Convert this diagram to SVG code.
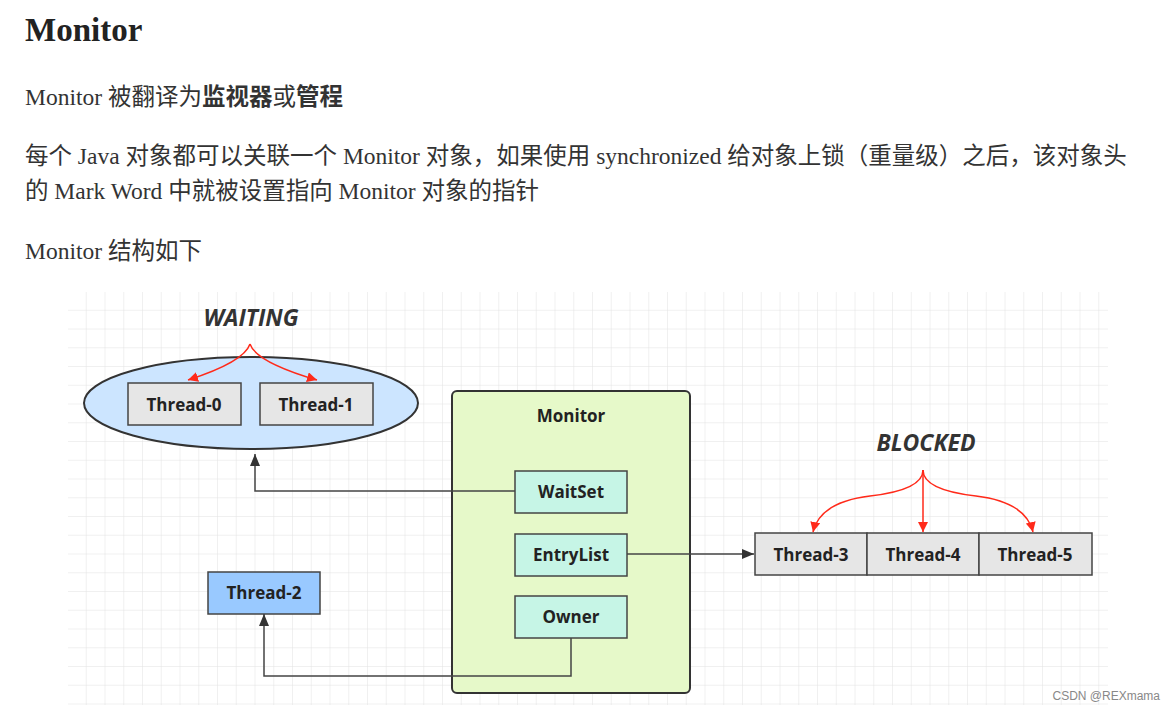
<svg xmlns="http://www.w3.org/2000/svg" width="1175" height="711" viewBox="0 0 1175 711">
<style>
.t{font-family:"Liberation Serif","Noto Sans CJK SC",serif;fill:#333;font-size:23.5px}
.d{font-family:"Open Sans","Liberation Sans",sans-serif;font-weight:bold;fill:#222;font-size:17px;text-anchor:middle}
.big{font-family:"Open Sans","Liberation Sans",sans-serif;font-weight:bold;font-style:italic;fill:#333;font-size:23px;text-anchor:middle}
.g{fill:#e6e6e6;stroke:#444;stroke-width:1.5}
.c{fill:#c6f5e6;stroke:#444;stroke-width:1.5}
.red{fill:none;stroke:#ff2a1a;stroke-width:1.5}
.blk{fill:none;stroke:#444;stroke-width:1.5}
</style>
<defs>
<pattern id="grid" width="18.75" height="18.75" patternUnits="userSpaceOnUse" x="68" y="292">
<path d="M18.75 0V18.75H0" fill="none" stroke="#e2e2e2" stroke-width="1"/>
</pattern>
<marker id="ar" markerWidth="12" markerHeight="12" refX="10" refY="5" orient="auto" markerUnits="userSpaceOnUse"><path d="M0,0L10,5L0,10z" fill="#ff2a1a"/></marker>
<marker id="ab" markerWidth="14" markerHeight="12" refX="12" refY="5" orient="auto" markerUnits="userSpaceOnUse"><path d="M0,0L12,5L0,10z" fill="#333"/></marker>
</defs>
<rect width="1175" height="711" fill="#fff"/>
<text x="25" y="41" style="font-family:'Liberation Serif',serif;font-weight:bold;font-size:33px;fill:#222">Monitor</text>
<text class="t" x="25" y="105">Monitor 被翻译为<tspan font-weight="bold" style="font-family:'Noto Sans CJK SC',sans-serif">监视器</tspan>或<tspan font-weight="bold" style="font-family:'Noto Sans CJK SC',sans-serif">管程</tspan></text>
<text class="t" x="25" y="164">每个 Java 对象都可以关联一个 Monitor 对象，如果使用 synchronized 给对象上锁（重量级）之后，该对象头</text>
<text class="t" x="25" y="199">的 Mark Word 中就被设置指向 Monitor 对象的指针</text>
<text class="t" x="25" y="259">Monitor 结构如下</text>
<rect x="68" y="292" width="1040" height="413" fill="url(#grid)"/>
<g id="waiting"><ellipse cx="251" cy="403" rx="167" ry="46" fill="#cce5ff" stroke="#333" stroke-width="2"/>
<text class="big" x="251" y="326">WAITING</text></g>
<g id="thread0"><rect class="g" x="128" y="383" width="113" height="42"/><text class="d" x="184" y="411">Thread-0</text></g>
<g id="thread1"><rect class="g" x="260" y="383" width="113" height="42"/><text class="d" x="316" y="411">Thread-1</text></g>
<g id="monitor"><rect x="452" y="391" width="238" height="302" rx="5" fill="#e6f9c9" stroke="#333" stroke-width="2"/><text class="d" x="571" y="422">Monitor</text></g>
<g id="waitset"><rect class="c" x="515" y="471" width="112" height="42"/><text class="d" x="571" y="498">WaitSet</text></g>
<g id="entrylist"><rect class="c" x="515" y="534" width="112" height="42"/><text class="d" x="571" y="561">EntryList</text></g>
<g id="owner"><rect class="c" x="515" y="596" width="112" height="42"/><text class="d" x="571" y="623">Owner</text></g>
<g id="thread2"><rect x="208" y="572" width="112" height="42" fill="#99c9ff" stroke="#444" stroke-width="1.5"/><text class="d" x="264" y="599">Thread-2</text></g>
<g id="blocked"><text class="big" x="926" y="451">BLOCKED</text></g>
<g id="thread3"><rect class="g" x="755" y="533" width="112" height="42"/><text class="d" x="811" y="561">Thread-3</text></g>
<g id="thread4"><rect class="g" x="867" y="533" width="112" height="42"/><text class="d" x="923" y="561">Thread-4</text></g>
<g id="thread5"><rect class="g" x="979" y="533" width="113" height="42"/><text class="d" x="1035" y="561">Thread-5</text></g>
<g id="connectors">
<path class="red" d="M250 344Q244 362 188 380" marker-end="url(#ar)"/>
<path class="red" d="M250 344Q256 362 317 380" marker-end="url(#ar)"/>
<path class="red" d="M923 470Q923 490 870 496Q820 502 813 532" marker-end="url(#ar)"/>
<path class="red" d="M923 470V532" marker-end="url(#ar)"/>
<path class="red" d="M923 470Q923 490 976 496Q1026 502 1033 532" marker-end="url(#ar)"/>
<path class="blk" d="M515 491H255V454" marker-end="url(#ab)"/>
<path class="blk" d="M627 554H754" marker-end="url(#ab)"/>
<path class="blk" d="M571 638V676H264V614" marker-end="url(#ab)"/>
</g>
<text x="1160" y="700" text-anchor="end" style="font-family:'Liberation Sans',sans-serif;font-size:12px;fill:#888">CSDN @REXmama</text>
</svg>
